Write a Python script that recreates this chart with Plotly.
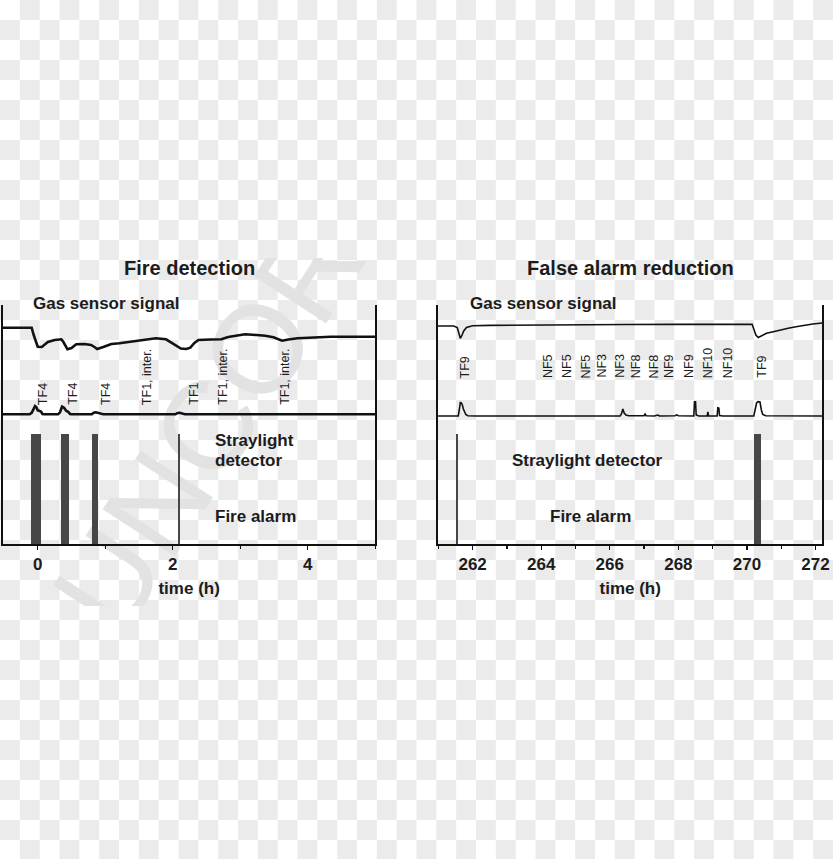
import plotly.graph_objects as go

W, H = 840, 859

# ---------------- data ----------------
# Fire detection panel (time in h)
gas_left_t = [-0.515, -0.09, -0.06, 0.0, 0.06, 0.15, 0.25, 0.35, 0.38, 0.44, 0.5, 0.57, 0.69, 0.79, 0.84,
              0.88, 0.97, 1.09, 1.21, 1.5, 1.62, 1.75, 1.9, 1.97, 2.04, 2.12, 2.2, 2.26, 2.32, 2.38, 2.56,
              2.72, 2.82, 2.97, 3.07, 3.24, 3.37, 3.49, 3.56, 3.62, 3.71, 3.85, 4.34, 5.0]
gas_left_v = [3.23, 3.23, 2.5, 1.33, 1.3, 1.8, 2.0, 2.07, 1.8, 1.07, 1.2, 1.57, 1.6, 1.5, 1.3,
              1.1, 1.3, 1.6, 1.67, 1.93, 2.05, 2.17, 2.07, 1.8, 1.5, 1.15, 1.1, 1.23, 1.7, 2.0, 2.05,
              2.07, 2.3, 2.5, 2.57, 2.5, 2.43, 2.27, 2.05, 1.93, 2.05, 2.17, 2.33, 2.33]

stray_left_t = [-0.515, -0.12, -0.09, -0.06, -0.04, -0.02, 0.0, 0.02, 0.05, 0.07, 0.1, 0.3, 0.33, 0.36,
                0.39, 0.42, 0.45, 0.48, 0.5, 0.8, 0.83, 0.86, 0.9, 0.94, 0.97, 2.04, 2.07, 2.1, 2.14,
                2.18, 5.0]
stray_left_v = [0, 0, 1.5, 6, 8.2, 7, 4, 3.6, 2.5, 0.3, 0, 0, 2, 7.6,
                6.5, 3.6, 2.5, 0.3, 0, 0, 1.5, 2, 1.5, 0.3, 0, 0, 1.3, 1.5, 1,
                0, 0]

alarm_left_start = [-0.093, 0.35, 0.80, 2.078]
alarm_left_end = [0.044, 0.47, 0.89, 2.107]

events_left_t = [0.08, 0.52, 1.01, 1.62, 2.31, 2.74, 3.66]
events_left = ["TF4", "TF4", "TF4", "TF1, inter.", "TF1", "TF1, inter.", "TF1, inter."]

# False alarm reduction panel
gas_right_t = [260.99, 261.45, 261.55, 261.6, 261.64, 261.68, 261.74, 261.82, 262.0, 262.5, 263.5,
               265.0, 266.5, 268.0, 269.5, 270.15, 270.2, 270.26, 270.33, 270.45, 270.57, 270.8,
               270.96, 271.2, 271.43, 271.7, 271.92, 272.2]
gas_right_v = [14.0, 14.0, 12.5, 5, 1.7, 4, 9, 12.5, 14.2, 14.6, 15.0,
               15.3, 15.5, 15.6, 15.7, 15.7, 11, 5, 2.5, 4.5, 6.7, 8.5,
               10, 11.8, 13.3, 15, 16, 17]

stray_right_t = [260.99, 261.58, 261.61, 261.64, 261.67, 261.70, 261.73, 261.76, 261.80, 261.86, 262.1,
                 266.3, 266.34, 266.38, 266.42, 266.47, 266.55, 267.0, 267.03, 267.06, 267.3, 267.4,
                 267.45, 267.9, 267.95, 268.0, 268.45, 268.47, 268.5, 268.52, 268.6, 268.84, 268.86,
                 268.88, 269.13, 269.15, 269.18, 269.2, 269.3, 270.2, 270.24, 270.28, 270.32, 270.38,
                 270.42, 270.46, 270.55, 272.2]
stray_right_v = [0, 0, 6, 13.4, 13, 11, 7, 4, 1.5, 0.3, 0,
                 0, 2, 7, 3, 1, 0.3, 0.3, 2, 0.3, 0, 1,
                 0, 0.3, 1.2, 0.3, 0, 14.3, 14.3, 1, 0, 0, 4,
                 0, 0, 8.3, 8, 0.5, 0, 0, 6, 13, 14.3, 14,
                 6, 1.5, 0.3, 0]

alarm_right_start = [261.52, 270.21]
alarm_right_end = [261.57, 270.40]

events_right_t = [261.79, 264.2, 264.75, 265.32, 265.76, 266.29, 266.77, 267.3, 267.73, 268.31,
                  268.86, 269.44, 270.43]
events_right = ["TF9", "NF5", "NF5", "NF5", "NF3", "NF3", "NF8", "NF8", "NF9", "NF9",
                "NF10", "NF10", "TF9"]

left_range = [-0.515, 5.0]
right_range = [260.99, 272.2]
left_ticks = [0, 2, 4]
right_ticks = [262, 264, 266, 268, 270, 272]

# ---------------- helpers ----------------
def px(x):
    return x / W

def py(y):
    return 1 - y / H

def dom(top, bottom):
    return [py(bottom), py(top)]

FONT = "Liberation Sans, Arial, Helvetica, sans-serif"
TXT = "#1c1c1c"
LINE = "#111111"
BAR = "#474747"

fig = go.Figure()

# frame subplots (empty traces so that the subplots exist)
fig.add_trace(go.Scatter(x=[], y=[], xaxis="x", yaxis="y", showlegend=False))
fig.add_trace(go.Scatter(x=[], y=[], xaxis="x5", yaxis="y5", showlegend=False))

# ---- traces ----
fig.add_trace(go.Scatter(x=gas_left_t, y=gas_left_v, mode="lines", xaxis="x2", yaxis="y2",
                         line=dict(color=LINE, width=2.6), showlegend=False, hoverinfo="skip"))
fig.add_trace(go.Scatter(x=stray_left_t, y=stray_left_v, mode="lines", xaxis="x3", yaxis="y3",
                         line=dict(color=LINE, width=2.6), showlegend=False, hoverinfo="skip"))
fig.add_trace(go.Bar(x=[(a + b) / 2 for a, b in zip(alarm_left_start, alarm_left_end)],
                     width=[b - a for a, b in zip(alarm_left_start, alarm_left_end)],
                     y=[1] * len(alarm_left_start), xaxis="x4", yaxis="y4",
                     marker=dict(color=BAR, line=dict(width=0)), showlegend=False, hoverinfo="skip"))

fig.add_trace(go.Scatter(x=gas_right_t, y=gas_right_v, mode="lines", xaxis="x6", yaxis="y6",
                         line=dict(color=LINE, width=1.6), showlegend=False, hoverinfo="skip"))
fig.add_trace(go.Scatter(x=stray_right_t, y=stray_right_v, mode="lines", xaxis="x7", yaxis="y7",
                         line=dict(color=LINE, width=1.6), showlegend=False, hoverinfo="skip"))
fig.add_trace(go.Bar(x=[(a + b) / 2 for a, b in zip(alarm_right_start, alarm_right_end)],
                     width=[b - a for a, b in zip(alarm_right_start, alarm_right_end)],
                     y=[1] * len(alarm_right_start), xaxis="x8", yaxis="y8",
                     marker=dict(color=BAR, line=dict(width=0)), showlegend=False, hoverinfo="skip"))

# ---- axes ----
def frame_x(dom_x, rng, ticks, anchor):
    return dict(domain=dom_x, range=rng, anchor=anchor, showline=True, linecolor=LINE, linewidth=1.6,
                ticks="outside", ticklen=4, tickwidth=1.3, tickcolor=LINE, tickvals=ticks,
                minor=dict(dtick=1, ticks="outside", ticklen=3, tickwidth=1.2, tickcolor=LINE),
                showgrid=False, zeroline=False, mirror=False,
                tickfont=dict(family=FONT, size=17, color=TXT, weight="bold"),
                title=dict(text="<b>time (h)</b>", font=dict(family=FONT, size=17, color=TXT), standoff=9),
                fixedrange=True)

def frame_y(anchor):
    return dict(domain=dom(305, 544), range=[0, 1], anchor=anchor, showline=True, mirror=True,
                linecolor=LINE, linewidth=1.6, ticks="", showticklabels=False, showgrid=False,
                zeroline=False, fixedrange=True)

def hidden_x(dom_x, rng, anchor):
    return dict(domain=dom_x, range=rng, anchor=anchor, visible=False, showgrid=False,
                zeroline=False, fixedrange=True)

def hidden_y(top, bottom, rng, anchor):
    return dict(domain=dom(top, bottom), range=rng, anchor=anchor, visible=False, showgrid=False,
                zeroline=False, fixedrange=True)

LD = [px(3), px(378.5)]
RD = [px(441.7), px(829.3)]

fig.update_layout(
    xaxis=frame_x(LD, left_range, left_ticks, "y"),
    yaxis=frame_y("x"),
    xaxis2=hidden_x(LD, left_range, "y2"),
    yaxis2=hidden_y(300, 360, [0, 6], "x2"),
    xaxis3=hidden_x(LD, left_range, "y3"),
    yaxis3=hidden_y(395, 420, [-5.7, 19.3], "x3"),
    xaxis4=hidden_x(LD, left_range, "y4"),
    yaxis4=hidden_y(434, 544, [0, 1], "x4"),
    xaxis5=frame_x(RD, right_range, right_ticks, "y5"),
    yaxis5=frame_y("x5"),
    xaxis6=hidden_x(RD, right_range, "y6"),
    yaxis6=hidden_y(310, 345, [-5, 30], "x6"),
    xaxis7=hidden_x(RD, right_range, "y7"),
    yaxis7=hidden_y(390, 420, [-4, 26], "x7"),
    xaxis8=hidden_x(RD, right_range, "y8"),
    yaxis8=hidden_y(434, 544, [0, 1], "x8"),
)

# ---- annotations ----
ann = []
def label(text, x, y, size=17, xanchor="center", bold=True):
    ann.append(dict(text=f"<b>{text}</b>" if bold else text, x=px(x), y=py(y), xref="paper", yref="paper",
                    xanchor=xanchor, yanchor="middle", showarrow=False,
                    font=dict(family=FONT, size=size, color=TXT)))

label("Fire detection", 191, 268, size=20)
label("False alarm reduction", 636, 268, size=20)
label("Gas sensor signal", 31.5, 303, xanchor="left")
label("Gas sensor signal", 471.5, 303, xanchor="left")
label("Straylight", 215, 440.7, xanchor="left")
label("detector", 215, 460.7, xanchor="left")
label("Fire alarm", 215, 516.7, xanchor="left")
label("Straylight detector", 514, 460.7, xanchor="left")
label("Fire alarm", 553, 516.7, xanchor="left")

for t, s in zip(events_left_t, events_left):
    ann.append(dict(text=s, x=t, y=py(406), xref="x", yref="paper", xanchor="center", yanchor="bottom",
                    textangle=-90, showarrow=False, borderpad=0,
                    font=dict(family=FONT, size=12.5, color=TXT)))
for t, s in zip(events_right_t, events_right):
    ann.append(dict(text=s, x=t, y=py(379), xref="x5", yref="paper", xanchor="center", yanchor="bottom",
                    textangle=-90, showarrow=False, borderpad=0,
                    font=dict(family=FONT, size=12.5, color=TXT)))

# ---- background: transparency checkerboard + watermark ----
SQ = 20
def checker_path(y_from, y_to):
    parts = []
    for j in range(0, H // SQ + 1):
        y0, y1 = j * SQ, (j + 1) * SQ
        y0c, y1c = max(y0, y_from), min(y1, y_to)
        if y1c <= y0c:
            continue
        for i in range(0, W // SQ + 1):
            if (i + j) % 2 == 1:
                x0, x1 = i * SQ, min((i + 1) * SQ, W)
                parts.append(f"M{px(x0):.5f},{py(y0c):.5f}H{px(x1):.5f}V{py(y1c):.5f}H{px(x0):.5f}Z")
    return "".join(parts)

GRAY = "#ebebeb"
shapes = [
    dict(type="path", path=checker_path(0, H), xref="paper", yref="paper", fillcolor=GRAY,
         line=dict(width=0), layer="below"),
    dict(type="rect", xref="paper", yref="paper", x0=px(100), x1=px(300), y0=py(518), y1=py(318),
         fillcolor="rgba(0,0,0,0)", line=dict(width=0), layer="below",
         label=dict(text="UNCOR", textangle=-57, textposition="middle center",
                    font=dict(family="Liberation Sans, Arial, sans-serif", size=125, color="#e2e2e2"))),
    dict(type="rect", xref="paper", yref="paper", x0=0, x1=1, y0=py(258), y1=1,
         fillcolor="white", line=dict(width=0), layer="below"),
    dict(type="path", path=checker_path(0, 258), xref="paper", yref="paper", fillcolor=GRAY,
         line=dict(width=0), layer="below"),
    dict(type="rect", xref="paper", yref="paper", x0=0, x1=1, y0=0, y1=py(606),
         fillcolor="white", line=dict(width=0), layer="below"),
    dict(type="path", path=checker_path(606, H), xref="paper", yref="paper", fillcolor=GRAY,
         line=dict(width=0), layer="below"),
]

fig.update_layout(
    width=W, height=H, autosize=False,
    margin=dict(l=0, r=0, t=0, b=0, pad=0),
    paper_bgcolor="white", plot_bgcolor="rgba(0,0,0,0)",
    showlegend=False, bargap=0,
    annotations=ann, shapes=shapes,
    font=dict(family=FONT, color=TXT),
)

fig.write_html("out.html", config={"displayModeBar": False, "staticPlot": True},
               post_script="document.body.style.margin='0';document.body.style.padding='0';"
                           "document.body.style.overflow='hidden';")
